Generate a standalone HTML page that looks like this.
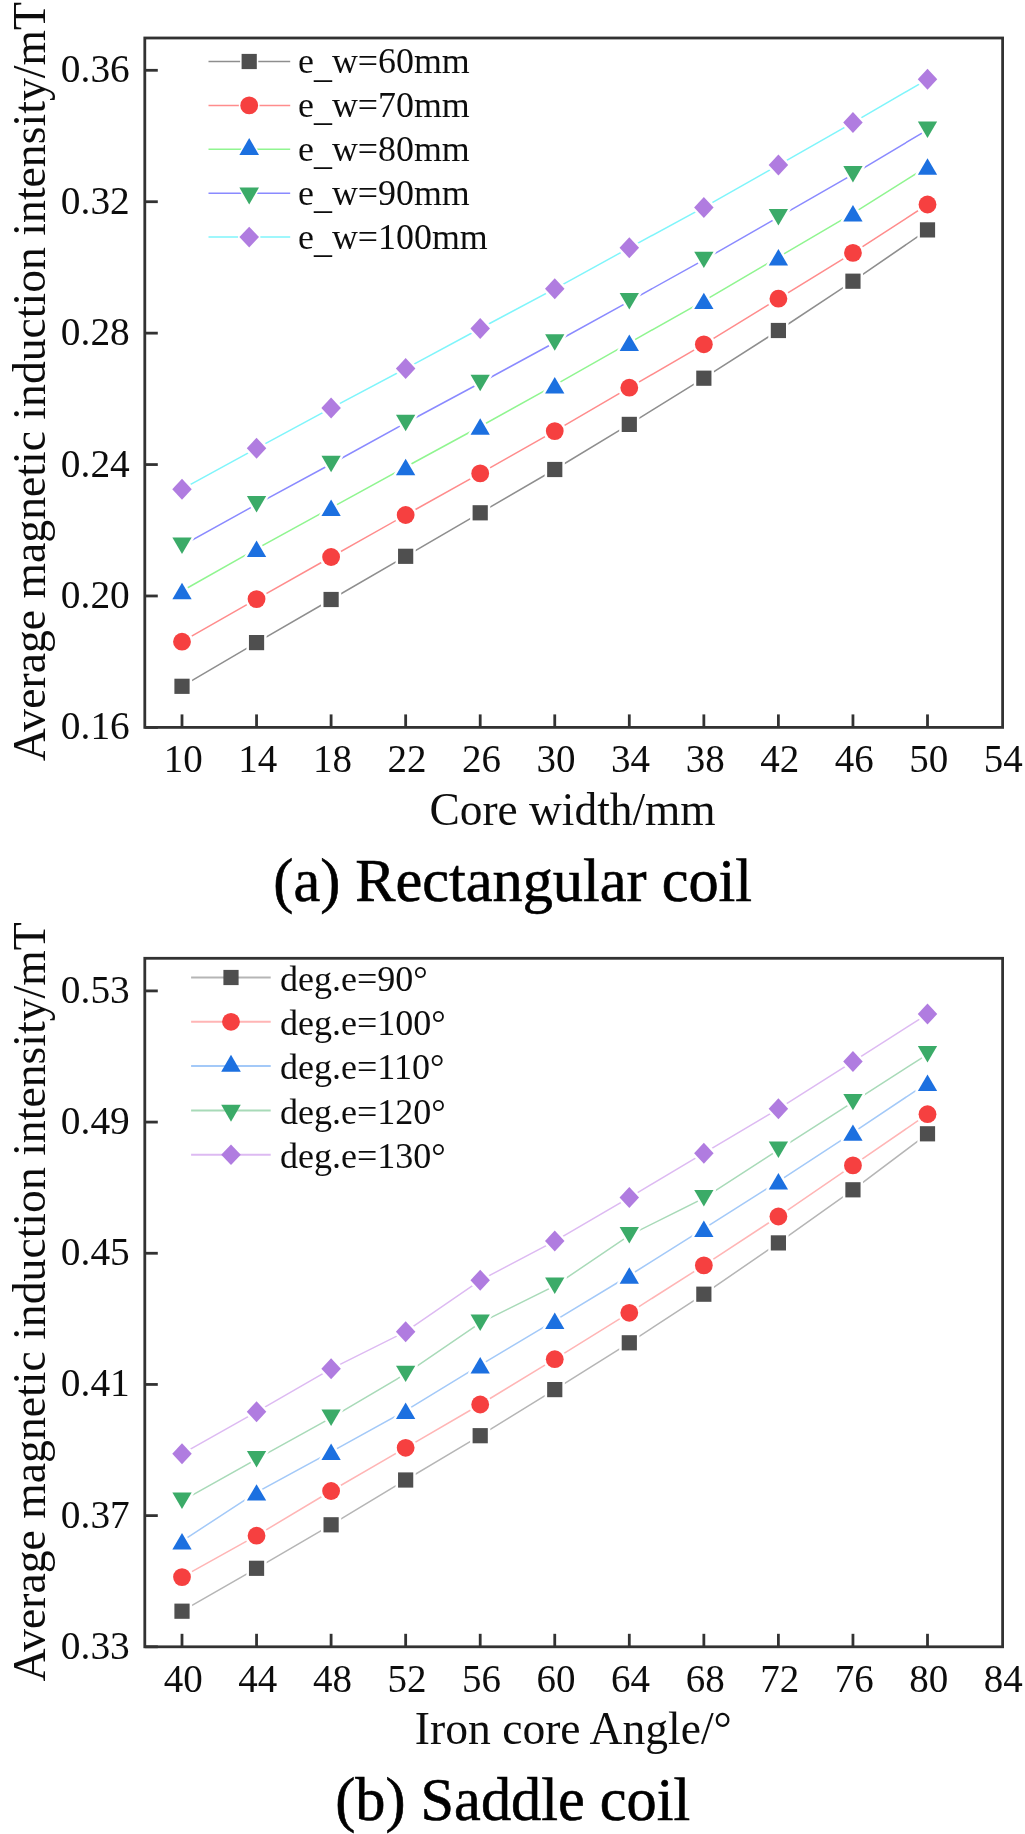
<!DOCTYPE html>
<html><head><meta charset="utf-8"><style>
html,body{margin:0;padding:0;background:#fff;}
svg{display:block;}
text{font-family:"Liberation Serif", serif;}
</style></head><body>
<svg width="1025" height="1834" viewBox="0 0 1025 1834">
<defs><filter id="soft" x="0" y="0" width="1025" height="1834" filterUnits="userSpaceOnUse"><feGaussianBlur stdDeviation="0.55"/></filter></defs>
<rect width="1025" height="1834" fill="#fff"/>
<g filter="url(#soft)"><polyline points="182.00,686.30 256.55,642.60 331.10,599.50 405.65,556.30 480.20,512.80 554.75,469.50 629.30,424.40 703.85,378.20 778.40,330.50 852.95,281.20 927.50,229.90" fill="none" stroke="#8e8e8e" stroke-width="1.5"/>
<polyline points="182.00,641.70 256.55,599.10 331.10,557.00 405.65,515.00 480.20,473.40 554.75,431.10 629.30,387.70 703.85,344.30 778.40,298.70 852.95,252.90 927.50,204.50" fill="none" stroke="#ff8c8c" stroke-width="1.5"/>
<polyline points="182.00,591.00 256.55,548.80 331.10,507.80 405.65,467.00 480.20,426.50 554.75,385.20 629.30,342.80 703.85,300.90 778.40,257.20 852.95,213.30 927.50,166.50" fill="none" stroke="#90f590" stroke-width="1.5"/>
<polyline points="182.00,545.70 256.55,504.30 331.10,464.00 405.65,423.00 480.20,383.00 554.75,342.50 629.30,301.30 703.85,259.90 778.40,217.20 852.95,174.30 927.50,129.80" fill="none" stroke="#8a8aff" stroke-width="1.5"/>
<polyline points="182.00,489.20 256.55,448.30 331.10,408.10 405.65,368.60 480.20,328.50 554.75,288.80 629.30,247.80 703.85,207.40 778.40,165.10 852.95,122.60 927.50,79.30" fill="none" stroke="#7ff5fb" stroke-width="1.5"/>
<rect x="174.40" y="678.70" width="15.20" height="15.20" fill="#4f4f4f" stroke="#fff" stroke-width="5.0" paint-order="stroke"/>
<rect x="248.95" y="635.00" width="15.20" height="15.20" fill="#4f4f4f" stroke="#fff" stroke-width="5.0" paint-order="stroke"/>
<rect x="323.50" y="591.90" width="15.20" height="15.20" fill="#4f4f4f" stroke="#fff" stroke-width="5.0" paint-order="stroke"/>
<rect x="398.05" y="548.70" width="15.20" height="15.20" fill="#4f4f4f" stroke="#fff" stroke-width="5.0" paint-order="stroke"/>
<rect x="472.60" y="505.20" width="15.20" height="15.20" fill="#4f4f4f" stroke="#fff" stroke-width="5.0" paint-order="stroke"/>
<rect x="547.15" y="461.90" width="15.20" height="15.20" fill="#4f4f4f" stroke="#fff" stroke-width="5.0" paint-order="stroke"/>
<rect x="621.70" y="416.80" width="15.20" height="15.20" fill="#4f4f4f" stroke="#fff" stroke-width="5.0" paint-order="stroke"/>
<rect x="696.25" y="370.60" width="15.20" height="15.20" fill="#4f4f4f" stroke="#fff" stroke-width="5.0" paint-order="stroke"/>
<rect x="770.80" y="322.90" width="15.20" height="15.20" fill="#4f4f4f" stroke="#fff" stroke-width="5.0" paint-order="stroke"/>
<rect x="845.35" y="273.60" width="15.20" height="15.20" fill="#4f4f4f" stroke="#fff" stroke-width="5.0" paint-order="stroke"/>
<rect x="919.90" y="222.30" width="15.20" height="15.20" fill="#4f4f4f" stroke="#fff" stroke-width="5.0" paint-order="stroke"/>
<circle cx="182.00" cy="641.70" r="8.90" fill="#f63f3f" stroke="#fff" stroke-width="5.0" paint-order="stroke"/>
<circle cx="256.55" cy="599.10" r="8.90" fill="#f63f3f" stroke="#fff" stroke-width="5.0" paint-order="stroke"/>
<circle cx="331.10" cy="557.00" r="8.90" fill="#f63f3f" stroke="#fff" stroke-width="5.0" paint-order="stroke"/>
<circle cx="405.65" cy="515.00" r="8.90" fill="#f63f3f" stroke="#fff" stroke-width="5.0" paint-order="stroke"/>
<circle cx="480.20" cy="473.40" r="8.90" fill="#f63f3f" stroke="#fff" stroke-width="5.0" paint-order="stroke"/>
<circle cx="554.75" cy="431.10" r="8.90" fill="#f63f3f" stroke="#fff" stroke-width="5.0" paint-order="stroke"/>
<circle cx="629.30" cy="387.70" r="8.90" fill="#f63f3f" stroke="#fff" stroke-width="5.0" paint-order="stroke"/>
<circle cx="703.85" cy="344.30" r="8.90" fill="#f63f3f" stroke="#fff" stroke-width="5.0" paint-order="stroke"/>
<circle cx="778.40" cy="298.70" r="8.90" fill="#f63f3f" stroke="#fff" stroke-width="5.0" paint-order="stroke"/>
<circle cx="852.95" cy="252.90" r="8.90" fill="#f63f3f" stroke="#fff" stroke-width="5.0" paint-order="stroke"/>
<circle cx="927.50" cy="204.50" r="8.90" fill="#f63f3f" stroke="#fff" stroke-width="5.0" paint-order="stroke"/>
<path d="M182.00 582.80L191.65 599.20L172.35 599.20Z" fill="#1b6fe0" stroke="#fff" stroke-width="5.0" paint-order="stroke" stroke-linejoin="round"/>
<path d="M256.55 540.60L266.20 557.00L246.90 557.00Z" fill="#1b6fe0" stroke="#fff" stroke-width="5.0" paint-order="stroke" stroke-linejoin="round"/>
<path d="M331.10 499.60L340.75 516.00L321.45 516.00Z" fill="#1b6fe0" stroke="#fff" stroke-width="5.0" paint-order="stroke" stroke-linejoin="round"/>
<path d="M405.65 458.80L415.30 475.20L396.00 475.20Z" fill="#1b6fe0" stroke="#fff" stroke-width="5.0" paint-order="stroke" stroke-linejoin="round"/>
<path d="M480.20 418.30L489.85 434.70L470.55 434.70Z" fill="#1b6fe0" stroke="#fff" stroke-width="5.0" paint-order="stroke" stroke-linejoin="round"/>
<path d="M554.75 377.00L564.40 393.40L545.10 393.40Z" fill="#1b6fe0" stroke="#fff" stroke-width="5.0" paint-order="stroke" stroke-linejoin="round"/>
<path d="M629.30 334.60L638.95 351.00L619.65 351.00Z" fill="#1b6fe0" stroke="#fff" stroke-width="5.0" paint-order="stroke" stroke-linejoin="round"/>
<path d="M703.85 292.70L713.50 309.10L694.20 309.10Z" fill="#1b6fe0" stroke="#fff" stroke-width="5.0" paint-order="stroke" stroke-linejoin="round"/>
<path d="M778.40 249.00L788.05 265.40L768.75 265.40Z" fill="#1b6fe0" stroke="#fff" stroke-width="5.0" paint-order="stroke" stroke-linejoin="round"/>
<path d="M852.95 205.10L862.60 221.50L843.30 221.50Z" fill="#1b6fe0" stroke="#fff" stroke-width="5.0" paint-order="stroke" stroke-linejoin="round"/>
<path d="M927.50 158.30L937.15 174.70L917.85 174.70Z" fill="#1b6fe0" stroke="#fff" stroke-width="5.0" paint-order="stroke" stroke-linejoin="round"/>
<path d="M172.35 537.50L191.65 537.50L182.00 553.90Z" fill="#3aab68" stroke="#fff" stroke-width="5.0" paint-order="stroke" stroke-linejoin="round"/>
<path d="M246.90 496.10L266.20 496.10L256.55 512.50Z" fill="#3aab68" stroke="#fff" stroke-width="5.0" paint-order="stroke" stroke-linejoin="round"/>
<path d="M321.45 455.80L340.75 455.80L331.10 472.20Z" fill="#3aab68" stroke="#fff" stroke-width="5.0" paint-order="stroke" stroke-linejoin="round"/>
<path d="M396.00 414.80L415.30 414.80L405.65 431.20Z" fill="#3aab68" stroke="#fff" stroke-width="5.0" paint-order="stroke" stroke-linejoin="round"/>
<path d="M470.55 374.80L489.85 374.80L480.20 391.20Z" fill="#3aab68" stroke="#fff" stroke-width="5.0" paint-order="stroke" stroke-linejoin="round"/>
<path d="M545.10 334.30L564.40 334.30L554.75 350.70Z" fill="#3aab68" stroke="#fff" stroke-width="5.0" paint-order="stroke" stroke-linejoin="round"/>
<path d="M619.65 293.10L638.95 293.10L629.30 309.50Z" fill="#3aab68" stroke="#fff" stroke-width="5.0" paint-order="stroke" stroke-linejoin="round"/>
<path d="M694.20 251.70L713.50 251.70L703.85 268.10Z" fill="#3aab68" stroke="#fff" stroke-width="5.0" paint-order="stroke" stroke-linejoin="round"/>
<path d="M768.75 209.00L788.05 209.00L778.40 225.40Z" fill="#3aab68" stroke="#fff" stroke-width="5.0" paint-order="stroke" stroke-linejoin="round"/>
<path d="M843.30 166.10L862.60 166.10L852.95 182.50Z" fill="#3aab68" stroke="#fff" stroke-width="5.0" paint-order="stroke" stroke-linejoin="round"/>
<path d="M917.85 121.60L937.15 121.60L927.50 138.00Z" fill="#3aab68" stroke="#fff" stroke-width="5.0" paint-order="stroke" stroke-linejoin="round"/>
<path d="M182.00 478.70L191.75 489.20L182.00 499.70L172.25 489.20Z" fill="#b07ce0" stroke="#fff" stroke-width="5.0" paint-order="stroke" stroke-linejoin="round"/>
<path d="M256.55 437.80L266.30 448.30L256.55 458.80L246.80 448.30Z" fill="#b07ce0" stroke="#fff" stroke-width="5.0" paint-order="stroke" stroke-linejoin="round"/>
<path d="M331.10 397.60L340.85 408.10L331.10 418.60L321.35 408.10Z" fill="#b07ce0" stroke="#fff" stroke-width="5.0" paint-order="stroke" stroke-linejoin="round"/>
<path d="M405.65 358.10L415.40 368.60L405.65 379.10L395.90 368.60Z" fill="#b07ce0" stroke="#fff" stroke-width="5.0" paint-order="stroke" stroke-linejoin="round"/>
<path d="M480.20 318.00L489.95 328.50L480.20 339.00L470.45 328.50Z" fill="#b07ce0" stroke="#fff" stroke-width="5.0" paint-order="stroke" stroke-linejoin="round"/>
<path d="M554.75 278.30L564.50 288.80L554.75 299.30L545.00 288.80Z" fill="#b07ce0" stroke="#fff" stroke-width="5.0" paint-order="stroke" stroke-linejoin="round"/>
<path d="M629.30 237.30L639.05 247.80L629.30 258.30L619.55 247.80Z" fill="#b07ce0" stroke="#fff" stroke-width="5.0" paint-order="stroke" stroke-linejoin="round"/>
<path d="M703.85 196.90L713.60 207.40L703.85 217.90L694.10 207.40Z" fill="#b07ce0" stroke="#fff" stroke-width="5.0" paint-order="stroke" stroke-linejoin="round"/>
<path d="M778.40 154.60L788.15 165.10L778.40 175.60L768.65 165.10Z" fill="#b07ce0" stroke="#fff" stroke-width="5.0" paint-order="stroke" stroke-linejoin="round"/>
<path d="M852.95 112.10L862.70 122.60L852.95 133.10L843.20 122.60Z" fill="#b07ce0" stroke="#fff" stroke-width="5.0" paint-order="stroke" stroke-linejoin="round"/>
<path d="M927.50 68.80L937.25 79.30L927.50 89.80L917.75 79.30Z" fill="#b07ce0" stroke="#fff" stroke-width="5.0" paint-order="stroke" stroke-linejoin="round"/>
<rect x="144.80" y="38.00" width="857.80" height="689.40" fill="none" stroke="#333" stroke-width="2.8"/>
<line x1="144.80" y1="727.40" x2="157.80" y2="727.40" stroke="#333" stroke-width="2.8"/>
<line x1="144.80" y1="595.98" x2="157.80" y2="595.98" stroke="#333" stroke-width="2.8"/>
<line x1="144.80" y1="464.56" x2="157.80" y2="464.56" stroke="#333" stroke-width="2.8"/>
<line x1="144.80" y1="333.14" x2="157.80" y2="333.14" stroke="#333" stroke-width="2.8"/>
<line x1="144.80" y1="201.72" x2="157.80" y2="201.72" stroke="#333" stroke-width="2.8"/>
<line x1="144.80" y1="70.30" x2="157.80" y2="70.30" stroke="#333" stroke-width="2.8"/>
<line x1="182.00" y1="727.40" x2="182.00" y2="714.40" stroke="#333" stroke-width="2.8"/>
<line x1="256.55" y1="727.40" x2="256.55" y2="714.40" stroke="#333" stroke-width="2.8"/>
<line x1="331.10" y1="727.40" x2="331.10" y2="714.40" stroke="#333" stroke-width="2.8"/>
<line x1="405.65" y1="727.40" x2="405.65" y2="714.40" stroke="#333" stroke-width="2.8"/>
<line x1="480.20" y1="727.40" x2="480.20" y2="714.40" stroke="#333" stroke-width="2.8"/>
<line x1="554.75" y1="727.40" x2="554.75" y2="714.40" stroke="#333" stroke-width="2.8"/>
<line x1="629.30" y1="727.40" x2="629.30" y2="714.40" stroke="#333" stroke-width="2.8"/>
<line x1="703.85" y1="727.40" x2="703.85" y2="714.40" stroke="#333" stroke-width="2.8"/>
<line x1="778.40" y1="727.40" x2="778.40" y2="714.40" stroke="#333" stroke-width="2.8"/>
<line x1="852.95" y1="727.40" x2="852.95" y2="714.40" stroke="#333" stroke-width="2.8"/>
<line x1="927.50" y1="727.40" x2="927.50" y2="714.40" stroke="#333" stroke-width="2.8"/>
<text transform="translate(129.8 739.40) scale(0.985 1)" text-anchor="end" font-size="40" fill="#111">0.16</text>
<text transform="translate(129.8 607.98) scale(0.985 1)" text-anchor="end" font-size="40" fill="#111">0.20</text>
<text transform="translate(129.8 476.56) scale(0.985 1)" text-anchor="end" font-size="40" fill="#111">0.24</text>
<text transform="translate(129.8 345.14) scale(0.985 1)" text-anchor="end" font-size="40" fill="#111">0.28</text>
<text transform="translate(129.8 213.72) scale(0.985 1)" text-anchor="end" font-size="40" fill="#111">0.32</text>
<text transform="translate(129.8 82.30) scale(0.985 1)" text-anchor="end" font-size="40" fill="#111">0.36</text>
<text transform="translate(183.30 772.40) scale(0.975 1)" text-anchor="middle" font-size="40" fill="#111">10</text>
<text transform="translate(257.85 772.40) scale(0.975 1)" text-anchor="middle" font-size="40" fill="#111">14</text>
<text transform="translate(332.40 772.40) scale(0.975 1)" text-anchor="middle" font-size="40" fill="#111">18</text>
<text transform="translate(406.95 772.40) scale(0.975 1)" text-anchor="middle" font-size="40" fill="#111">22</text>
<text transform="translate(481.50 772.40) scale(0.975 1)" text-anchor="middle" font-size="40" fill="#111">26</text>
<text transform="translate(556.05 772.40) scale(0.975 1)" text-anchor="middle" font-size="40" fill="#111">30</text>
<text transform="translate(630.60 772.40) scale(0.975 1)" text-anchor="middle" font-size="40" fill="#111">34</text>
<text transform="translate(705.15 772.40) scale(0.975 1)" text-anchor="middle" font-size="40" fill="#111">38</text>
<text transform="translate(779.70 772.40) scale(0.975 1)" text-anchor="middle" font-size="40" fill="#111">42</text>
<text transform="translate(854.25 772.40) scale(0.975 1)" text-anchor="middle" font-size="40" fill="#111">46</text>
<text transform="translate(928.80 772.40) scale(0.975 1)" text-anchor="middle" font-size="40" fill="#111">50</text>
<text transform="translate(1003.35 772.40) scale(0.975 1)" text-anchor="middle" font-size="40" fill="#111">54</text>
<line x1="208.50" y1="61.50" x2="290.20" y2="61.50" stroke="#8e8e8e" stroke-width="1.5"/>
<rect x="241.60" y="53.90" width="15.20" height="15.20" fill="#4f4f4f" stroke="#fff" stroke-width="3.0" paint-order="stroke"/>
<text x="298.00" y="73.00" font-size="35.9" fill="#111">e<tspan dy="3.5">_</tspan><tspan dy="-3.5">w=60mm</tspan></text>
<line x1="208.50" y1="105.40" x2="290.20" y2="105.40" stroke="#ff8c8c" stroke-width="1.5"/>
<circle cx="249.20" cy="105.40" r="8.90" fill="#f63f3f" stroke="#fff" stroke-width="3.0" paint-order="stroke"/>
<text x="298.00" y="116.90" font-size="35.9" fill="#111">e<tspan dy="3.5">_</tspan><tspan dy="-3.5">w=70mm</tspan></text>
<line x1="208.50" y1="149.30" x2="290.20" y2="149.30" stroke="#90f590" stroke-width="1.5"/>
<path d="M249.20 137.97L259.00 154.97L239.40 154.97Z" fill="#1b6fe0" stroke="#fff" stroke-width="3.0" paint-order="stroke" stroke-linejoin="round"/>
<text x="298.00" y="160.80" font-size="35.9" fill="#111">e<tspan dy="3.5">_</tspan><tspan dy="-3.5">w=80mm</tspan></text>
<line x1="208.50" y1="193.20" x2="290.20" y2="193.20" stroke="#8a8aff" stroke-width="1.5"/>
<path d="M239.40 187.53L259.00 187.53L249.20 204.53Z" fill="#3aab68" stroke="#fff" stroke-width="3.0" paint-order="stroke" stroke-linejoin="round"/>
<text x="298.00" y="204.70" font-size="35.9" fill="#111">e<tspan dy="3.5">_</tspan><tspan dy="-3.5">w=90mm</tspan></text>
<line x1="208.50" y1="237.10" x2="290.20" y2="237.10" stroke="#7ff5fb" stroke-width="1.5"/>
<path d="M249.20 226.80L259.00 237.10L249.20 247.40L239.40 237.10Z" fill="#b07ce0" stroke="#fff" stroke-width="3.0" paint-order="stroke" stroke-linejoin="round"/>
<text x="298.00" y="248.60" font-size="35.9" fill="#111">e<tspan dy="3.5">_</tspan><tspan dy="-3.5">w=100mm</tspan></text>
<text x="572.60" y="825.00" text-anchor="middle" font-size="45.4" fill="#111">Core width/mm</text>
<text transform="translate(45.4 381.70) rotate(-90)" x="0" y="0" text-anchor="middle" font-size="45.7" fill="#111">Average magnetic induction intensity/mT</text></g>
<text x="512.70" y="900.70" text-anchor="middle" font-size="60.3" fill="#000" stroke="#000" stroke-width="0.6">(a) Rectangular coil</text>
<g filter="url(#soft)"><polyline points="182.00,1611.20 256.55,1568.30 331.10,1524.80 405.65,1480.00 480.20,1435.70 554.75,1389.60 629.30,1342.80 703.85,1294.20 778.40,1242.90 852.95,1189.80 927.50,1133.80" fill="none" stroke="#b5b5b5" stroke-width="1.5"/>
<polyline points="182.00,1577.10 256.55,1535.70 331.10,1491.00 405.65,1447.80 480.20,1404.50 554.75,1359.20 629.30,1312.80 703.85,1265.40 778.40,1216.50 852.95,1165.40 927.50,1114.20" fill="none" stroke="#ffb5b5" stroke-width="1.5"/>
<polyline points="182.00,1541.20 256.55,1492.40 331.10,1451.80 405.65,1410.70 480.20,1365.20 554.75,1320.70 629.30,1275.50 703.85,1228.70 778.40,1181.30 852.95,1132.60 927.50,1082.80" fill="none" stroke="#a3c9f8" stroke-width="1.5"/>
<polyline points="182.00,1500.80 256.55,1459.20 331.10,1417.80 405.65,1373.90 480.20,1322.80 554.75,1285.80 629.30,1235.30 703.85,1198.20 778.40,1149.80 852.95,1102.10 927.50,1054.30" fill="none" stroke="#a8dab8" stroke-width="1.5"/>
<polyline points="182.00,1453.80 256.55,1411.80 331.10,1368.80 405.65,1331.70 480.20,1280.30 554.75,1241.10 629.30,1197.60 703.85,1153.20 778.40,1108.80 852.95,1061.60 927.50,1014.10" fill="none" stroke="#ddbaf2" stroke-width="1.5"/>
<rect x="174.40" y="1603.60" width="15.20" height="15.20" fill="#4f4f4f" stroke="#fff" stroke-width="5.0" paint-order="stroke"/>
<rect x="248.95" y="1560.70" width="15.20" height="15.20" fill="#4f4f4f" stroke="#fff" stroke-width="5.0" paint-order="stroke"/>
<rect x="323.50" y="1517.20" width="15.20" height="15.20" fill="#4f4f4f" stroke="#fff" stroke-width="5.0" paint-order="stroke"/>
<rect x="398.05" y="1472.40" width="15.20" height="15.20" fill="#4f4f4f" stroke="#fff" stroke-width="5.0" paint-order="stroke"/>
<rect x="472.60" y="1428.10" width="15.20" height="15.20" fill="#4f4f4f" stroke="#fff" stroke-width="5.0" paint-order="stroke"/>
<rect x="547.15" y="1382.00" width="15.20" height="15.20" fill="#4f4f4f" stroke="#fff" stroke-width="5.0" paint-order="stroke"/>
<rect x="621.70" y="1335.20" width="15.20" height="15.20" fill="#4f4f4f" stroke="#fff" stroke-width="5.0" paint-order="stroke"/>
<rect x="696.25" y="1286.60" width="15.20" height="15.20" fill="#4f4f4f" stroke="#fff" stroke-width="5.0" paint-order="stroke"/>
<rect x="770.80" y="1235.30" width="15.20" height="15.20" fill="#4f4f4f" stroke="#fff" stroke-width="5.0" paint-order="stroke"/>
<rect x="845.35" y="1182.20" width="15.20" height="15.20" fill="#4f4f4f" stroke="#fff" stroke-width="5.0" paint-order="stroke"/>
<rect x="919.90" y="1126.20" width="15.20" height="15.20" fill="#4f4f4f" stroke="#fff" stroke-width="5.0" paint-order="stroke"/>
<circle cx="182.00" cy="1577.10" r="8.90" fill="#f63f3f" stroke="#fff" stroke-width="5.0" paint-order="stroke"/>
<circle cx="256.55" cy="1535.70" r="8.90" fill="#f63f3f" stroke="#fff" stroke-width="5.0" paint-order="stroke"/>
<circle cx="331.10" cy="1491.00" r="8.90" fill="#f63f3f" stroke="#fff" stroke-width="5.0" paint-order="stroke"/>
<circle cx="405.65" cy="1447.80" r="8.90" fill="#f63f3f" stroke="#fff" stroke-width="5.0" paint-order="stroke"/>
<circle cx="480.20" cy="1404.50" r="8.90" fill="#f63f3f" stroke="#fff" stroke-width="5.0" paint-order="stroke"/>
<circle cx="554.75" cy="1359.20" r="8.90" fill="#f63f3f" stroke="#fff" stroke-width="5.0" paint-order="stroke"/>
<circle cx="629.30" cy="1312.80" r="8.90" fill="#f63f3f" stroke="#fff" stroke-width="5.0" paint-order="stroke"/>
<circle cx="703.85" cy="1265.40" r="8.90" fill="#f63f3f" stroke="#fff" stroke-width="5.0" paint-order="stroke"/>
<circle cx="778.40" cy="1216.50" r="8.90" fill="#f63f3f" stroke="#fff" stroke-width="5.0" paint-order="stroke"/>
<circle cx="852.95" cy="1165.40" r="8.90" fill="#f63f3f" stroke="#fff" stroke-width="5.0" paint-order="stroke"/>
<circle cx="927.50" cy="1114.20" r="8.90" fill="#f63f3f" stroke="#fff" stroke-width="5.0" paint-order="stroke"/>
<path d="M182.00 1533.00L191.65 1549.40L172.35 1549.40Z" fill="#1b6fe0" stroke="#fff" stroke-width="5.0" paint-order="stroke" stroke-linejoin="round"/>
<path d="M256.55 1484.20L266.20 1500.60L246.90 1500.60Z" fill="#1b6fe0" stroke="#fff" stroke-width="5.0" paint-order="stroke" stroke-linejoin="round"/>
<path d="M331.10 1443.60L340.75 1460.00L321.45 1460.00Z" fill="#1b6fe0" stroke="#fff" stroke-width="5.0" paint-order="stroke" stroke-linejoin="round"/>
<path d="M405.65 1402.50L415.30 1418.90L396.00 1418.90Z" fill="#1b6fe0" stroke="#fff" stroke-width="5.0" paint-order="stroke" stroke-linejoin="round"/>
<path d="M480.20 1357.00L489.85 1373.40L470.55 1373.40Z" fill="#1b6fe0" stroke="#fff" stroke-width="5.0" paint-order="stroke" stroke-linejoin="round"/>
<path d="M554.75 1312.50L564.40 1328.90L545.10 1328.90Z" fill="#1b6fe0" stroke="#fff" stroke-width="5.0" paint-order="stroke" stroke-linejoin="round"/>
<path d="M629.30 1267.30L638.95 1283.70L619.65 1283.70Z" fill="#1b6fe0" stroke="#fff" stroke-width="5.0" paint-order="stroke" stroke-linejoin="round"/>
<path d="M703.85 1220.50L713.50 1236.90L694.20 1236.90Z" fill="#1b6fe0" stroke="#fff" stroke-width="5.0" paint-order="stroke" stroke-linejoin="round"/>
<path d="M778.40 1173.10L788.05 1189.50L768.75 1189.50Z" fill="#1b6fe0" stroke="#fff" stroke-width="5.0" paint-order="stroke" stroke-linejoin="round"/>
<path d="M852.95 1124.40L862.60 1140.80L843.30 1140.80Z" fill="#1b6fe0" stroke="#fff" stroke-width="5.0" paint-order="stroke" stroke-linejoin="round"/>
<path d="M927.50 1074.60L937.15 1091.00L917.85 1091.00Z" fill="#1b6fe0" stroke="#fff" stroke-width="5.0" paint-order="stroke" stroke-linejoin="round"/>
<path d="M172.35 1492.60L191.65 1492.60L182.00 1509.00Z" fill="#3aab68" stroke="#fff" stroke-width="5.0" paint-order="stroke" stroke-linejoin="round"/>
<path d="M246.90 1451.00L266.20 1451.00L256.55 1467.40Z" fill="#3aab68" stroke="#fff" stroke-width="5.0" paint-order="stroke" stroke-linejoin="round"/>
<path d="M321.45 1409.60L340.75 1409.60L331.10 1426.00Z" fill="#3aab68" stroke="#fff" stroke-width="5.0" paint-order="stroke" stroke-linejoin="round"/>
<path d="M396.00 1365.70L415.30 1365.70L405.65 1382.10Z" fill="#3aab68" stroke="#fff" stroke-width="5.0" paint-order="stroke" stroke-linejoin="round"/>
<path d="M470.55 1314.60L489.85 1314.60L480.20 1331.00Z" fill="#3aab68" stroke="#fff" stroke-width="5.0" paint-order="stroke" stroke-linejoin="round"/>
<path d="M545.10 1277.60L564.40 1277.60L554.75 1294.00Z" fill="#3aab68" stroke="#fff" stroke-width="5.0" paint-order="stroke" stroke-linejoin="round"/>
<path d="M619.65 1227.10L638.95 1227.10L629.30 1243.50Z" fill="#3aab68" stroke="#fff" stroke-width="5.0" paint-order="stroke" stroke-linejoin="round"/>
<path d="M694.20 1190.00L713.50 1190.00L703.85 1206.40Z" fill="#3aab68" stroke="#fff" stroke-width="5.0" paint-order="stroke" stroke-linejoin="round"/>
<path d="M768.75 1141.60L788.05 1141.60L778.40 1158.00Z" fill="#3aab68" stroke="#fff" stroke-width="5.0" paint-order="stroke" stroke-linejoin="round"/>
<path d="M843.30 1093.90L862.60 1093.90L852.95 1110.30Z" fill="#3aab68" stroke="#fff" stroke-width="5.0" paint-order="stroke" stroke-linejoin="round"/>
<path d="M917.85 1046.10L937.15 1046.10L927.50 1062.50Z" fill="#3aab68" stroke="#fff" stroke-width="5.0" paint-order="stroke" stroke-linejoin="round"/>
<path d="M182.00 1443.30L191.75 1453.80L182.00 1464.30L172.25 1453.80Z" fill="#b07ce0" stroke="#fff" stroke-width="5.0" paint-order="stroke" stroke-linejoin="round"/>
<path d="M256.55 1401.30L266.30 1411.80L256.55 1422.30L246.80 1411.80Z" fill="#b07ce0" stroke="#fff" stroke-width="5.0" paint-order="stroke" stroke-linejoin="round"/>
<path d="M331.10 1358.30L340.85 1368.80L331.10 1379.30L321.35 1368.80Z" fill="#b07ce0" stroke="#fff" stroke-width="5.0" paint-order="stroke" stroke-linejoin="round"/>
<path d="M405.65 1321.20L415.40 1331.70L405.65 1342.20L395.90 1331.70Z" fill="#b07ce0" stroke="#fff" stroke-width="5.0" paint-order="stroke" stroke-linejoin="round"/>
<path d="M480.20 1269.80L489.95 1280.30L480.20 1290.80L470.45 1280.30Z" fill="#b07ce0" stroke="#fff" stroke-width="5.0" paint-order="stroke" stroke-linejoin="round"/>
<path d="M554.75 1230.60L564.50 1241.10L554.75 1251.60L545.00 1241.10Z" fill="#b07ce0" stroke="#fff" stroke-width="5.0" paint-order="stroke" stroke-linejoin="round"/>
<path d="M629.30 1187.10L639.05 1197.60L629.30 1208.10L619.55 1197.60Z" fill="#b07ce0" stroke="#fff" stroke-width="5.0" paint-order="stroke" stroke-linejoin="round"/>
<path d="M703.85 1142.70L713.60 1153.20L703.85 1163.70L694.10 1153.20Z" fill="#b07ce0" stroke="#fff" stroke-width="5.0" paint-order="stroke" stroke-linejoin="round"/>
<path d="M778.40 1098.30L788.15 1108.80L778.40 1119.30L768.65 1108.80Z" fill="#b07ce0" stroke="#fff" stroke-width="5.0" paint-order="stroke" stroke-linejoin="round"/>
<path d="M852.95 1051.10L862.70 1061.60L852.95 1072.10L843.20 1061.60Z" fill="#b07ce0" stroke="#fff" stroke-width="5.0" paint-order="stroke" stroke-linejoin="round"/>
<path d="M927.50 1003.60L937.25 1014.10L927.50 1024.60L917.75 1014.10Z" fill="#b07ce0" stroke="#fff" stroke-width="5.0" paint-order="stroke" stroke-linejoin="round"/>
<rect x="144.80" y="958.30" width="857.80" height="688.50" fill="none" stroke="#333" stroke-width="2.8"/>
<line x1="144.80" y1="1646.80" x2="157.80" y2="1646.80" stroke="#333" stroke-width="2.8"/>
<line x1="144.80" y1="1515.62" x2="157.80" y2="1515.62" stroke="#333" stroke-width="2.8"/>
<line x1="144.80" y1="1384.44" x2="157.80" y2="1384.44" stroke="#333" stroke-width="2.8"/>
<line x1="144.80" y1="1253.26" x2="157.80" y2="1253.26" stroke="#333" stroke-width="2.8"/>
<line x1="144.80" y1="1122.08" x2="157.80" y2="1122.08" stroke="#333" stroke-width="2.8"/>
<line x1="144.80" y1="990.90" x2="157.80" y2="990.90" stroke="#333" stroke-width="2.8"/>
<line x1="182.00" y1="1646.80" x2="182.00" y2="1633.80" stroke="#333" stroke-width="2.8"/>
<line x1="256.55" y1="1646.80" x2="256.55" y2="1633.80" stroke="#333" stroke-width="2.8"/>
<line x1="331.10" y1="1646.80" x2="331.10" y2="1633.80" stroke="#333" stroke-width="2.8"/>
<line x1="405.65" y1="1646.80" x2="405.65" y2="1633.80" stroke="#333" stroke-width="2.8"/>
<line x1="480.20" y1="1646.80" x2="480.20" y2="1633.80" stroke="#333" stroke-width="2.8"/>
<line x1="554.75" y1="1646.80" x2="554.75" y2="1633.80" stroke="#333" stroke-width="2.8"/>
<line x1="629.30" y1="1646.80" x2="629.30" y2="1633.80" stroke="#333" stroke-width="2.8"/>
<line x1="703.85" y1="1646.80" x2="703.85" y2="1633.80" stroke="#333" stroke-width="2.8"/>
<line x1="778.40" y1="1646.80" x2="778.40" y2="1633.80" stroke="#333" stroke-width="2.8"/>
<line x1="852.95" y1="1646.80" x2="852.95" y2="1633.80" stroke="#333" stroke-width="2.8"/>
<line x1="927.50" y1="1646.80" x2="927.50" y2="1633.80" stroke="#333" stroke-width="2.8"/>
<text transform="translate(129.8 1658.80) scale(0.985 1)" text-anchor="end" font-size="40" fill="#111">0.33</text>
<text transform="translate(129.8 1527.62) scale(0.985 1)" text-anchor="end" font-size="40" fill="#111">0.37</text>
<text transform="translate(129.8 1396.44) scale(0.985 1)" text-anchor="end" font-size="40" fill="#111">0.41</text>
<text transform="translate(129.8 1265.26) scale(0.985 1)" text-anchor="end" font-size="40" fill="#111">0.45</text>
<text transform="translate(129.8 1134.08) scale(0.985 1)" text-anchor="end" font-size="40" fill="#111">0.49</text>
<text transform="translate(129.8 1002.90) scale(0.985 1)" text-anchor="end" font-size="40" fill="#111">0.53</text>
<text transform="translate(183.30 1691.80) scale(0.975 1)" text-anchor="middle" font-size="40" fill="#111">40</text>
<text transform="translate(257.85 1691.80) scale(0.975 1)" text-anchor="middle" font-size="40" fill="#111">44</text>
<text transform="translate(332.40 1691.80) scale(0.975 1)" text-anchor="middle" font-size="40" fill="#111">48</text>
<text transform="translate(406.95 1691.80) scale(0.975 1)" text-anchor="middle" font-size="40" fill="#111">52</text>
<text transform="translate(481.50 1691.80) scale(0.975 1)" text-anchor="middle" font-size="40" fill="#111">56</text>
<text transform="translate(556.05 1691.80) scale(0.975 1)" text-anchor="middle" font-size="40" fill="#111">60</text>
<text transform="translate(630.60 1691.80) scale(0.975 1)" text-anchor="middle" font-size="40" fill="#111">64</text>
<text transform="translate(705.15 1691.80) scale(0.975 1)" text-anchor="middle" font-size="40" fill="#111">68</text>
<text transform="translate(779.70 1691.80) scale(0.975 1)" text-anchor="middle" font-size="40" fill="#111">72</text>
<text transform="translate(854.25 1691.80) scale(0.975 1)" text-anchor="middle" font-size="40" fill="#111">76</text>
<text transform="translate(928.80 1691.80) scale(0.975 1)" text-anchor="middle" font-size="40" fill="#111">80</text>
<text transform="translate(1003.35 1691.80) scale(0.975 1)" text-anchor="middle" font-size="40" fill="#111">84</text>
<line x1="191.10" y1="977.50" x2="270.70" y2="977.50" stroke="#b5b5b5" stroke-width="2.0"/>
<rect x="223.40" y="969.90" width="15.20" height="15.20" fill="#4f4f4f"/>
<text x="280.00" y="990.80" font-size="36" fill="#111">deg.e=90°</text>
<line x1="191.10" y1="1021.80" x2="270.70" y2="1021.80" stroke="#ffb5b5" stroke-width="2.0"/>
<circle cx="231.00" cy="1021.80" r="8.90" fill="#f63f3f"/>
<text x="280.00" y="1035.10" font-size="36" fill="#111">deg.e=100°</text>
<line x1="191.10" y1="1066.10" x2="270.70" y2="1066.10" stroke="#a3c9f8" stroke-width="2.0"/>
<path d="M231.00 1054.77L240.80 1071.77L221.20 1071.77Z" fill="#1b6fe0" stroke-linejoin="round"/>
<text x="280.00" y="1079.40" font-size="36" fill="#111">deg.e=110°</text>
<line x1="191.10" y1="1110.40" x2="270.70" y2="1110.40" stroke="#a8dab8" stroke-width="2.0"/>
<path d="M221.20 1104.73L240.80 1104.73L231.00 1121.73Z" fill="#3aab68" stroke-linejoin="round"/>
<text x="280.00" y="1123.70" font-size="36" fill="#111">deg.e=120°</text>
<line x1="191.10" y1="1154.70" x2="270.70" y2="1154.70" stroke="#ddbaf2" stroke-width="2.0"/>
<path d="M231.00 1144.40L240.80 1154.70L231.00 1165.00L221.20 1154.70Z" fill="#b07ce0" stroke-linejoin="round"/>
<text x="280.00" y="1168.00" font-size="36" fill="#111">deg.e=130°</text>
<text x="573.30" y="1743.70" text-anchor="middle" font-size="45.6" fill="#111">Iron core Angle/°</text>
<text transform="translate(45.4 1301.90) rotate(-90)" x="0" y="0" text-anchor="middle" font-size="45.7" fill="#111">Average magnetic induction intensity/mT</text></g>
<text x="512.70" y="1820.00" text-anchor="middle" font-size="60.3" fill="#000" stroke="#000" stroke-width="0.6">(b) Saddle coil</text>
</svg>
</body></html>
